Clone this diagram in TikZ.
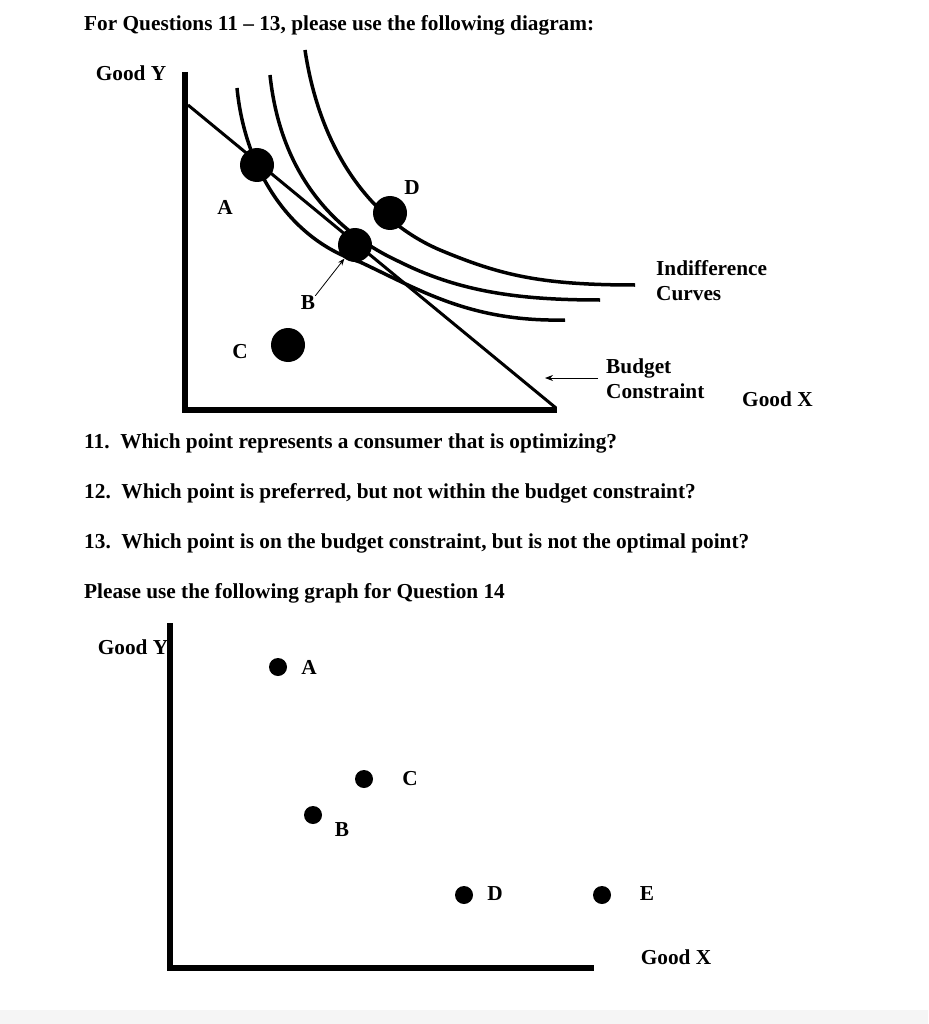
\documentclass[tikz,border=0pt]{standalone}
\usepackage{fontspec}
\usetikzlibrary{arrows.meta}
\setmainfont{Liberation Serif}
\begin{document}
\begin{tikzpicture}[x=1pt,y=-1pt,
  txt/.style={font=\fontsize{21.3}{25}\selectfont\bfseries,inner sep=0pt},
  ltxt/.style={txt,anchor=west},
  axis/.style={line width=6pt},
  curve/.style={line width=3.5pt},
  big/.style={circle,fill=black,minimum size=34pt,inner sep=0pt},
  small/.style={circle,fill=black,minimum size=18pt,inner sep=0pt}]
\useasboundingbox (0,0) rectangle (928,1024);
\fill[gray!8] (0,1010) rectangle (928,1024);
\node[ltxt] (title) at (84,25) {For Questions 11 -- 13, please use the following diagram:};
% top diagram
\coordinate (yt) at (185,72); \coordinate (o1) at (185,410); \coordinate (xe) at (557,410);
\draw[axis] (yt) -- (o1) -- (xe);
\coordinate (b1) at (188,105); \coordinate (b2) at (556,408);
\draw[line width=3pt] (b1) -- (b2);
\draw[curve] (237,88) .. controls (245,170) and (290,240) .. (360,262) .. controls (420,290) and (470,322) .. (565,320);
\draw[curve] (270,75) .. controls (280,170) and (330,230) .. (400,262) .. controls (460,292) and (520,300) .. (600,300);
\draw[curve] (305,50) .. controls (320,150) and (370,220) .. (440,250) .. controls (500,275) and (540,285) .. (635,285);
\node[big] (A) at (257,165) {};
\node[big] (D) at (390,213) {};
\node[big] (opt) at (355,245) {};
\node[big] (C) at (288,345) {};
\node[txt] (lA) at (225,207) {A};
\node[txt] (lD) at (412,188) {D};
\node[txt] (lB) at (308,303) {B};
\node[txt] (lC) at (240,352) {C};
\draw[-{Stealth[length=7pt]},thick] (lB.north east) -- (opt);
\node[ltxt,align=left] (ic) at (656,281) {Indifference\\Curves};
\node[ltxt,align=left] (bc) at (606,379) {Budget\\Constraint};
\coordinate (ae) at (545,378);
\draw[-{Stealth[length=8pt]},thick] (bc.west |- ae) ++(-8,0) coordinate (as) -- (ae);
\node[txt] (gy) at (131,73) {Good Y};
\node[ltxt] (gx) at (742,399) {Good X};
% questions
\node[ltxt] (q11) at (84,443) {11.\ \ Which point represents a consumer that is optimizing?};
\node[ltxt] (q12) at (84,493) {12.\ \ Which point is preferred, but not within the budget constraint?};
\node[ltxt] (q13) at (84,543) {13.\ \ Which point is on the budget constraint, but is not the optimal point?};
\node[ltxt] (q14) at (84,593) {Please use the following graph for Question 14};
% bottom
\node[txt] (gy2) at (133,647) {Good Y};
\coordinate (yt2) at (170,623); \coordinate (o2) at (170,968); \coordinate (xe2) at (594,968);
\draw[axis] (yt2) -- (o2) -- (xe2);
\node[small] (pA) at (278,667) {}; \node[txt] at (309,667) {A};
\node[small] (pC) at (364,779) {}; \node[txt] at (410,779) {C};
\node[small] (pB) at (313,815) {}; \node[txt] at (342,830) {B};
\node[small] (pD) at (464,895) {}; \node[txt] at (495,894) {D};
\node[small] (pE) at (602,895) {}; \node[txt] at (647,894) {E};
\node[txt] (gx2) at (676,957) {Good X};
\end{tikzpicture}
\end{document}
